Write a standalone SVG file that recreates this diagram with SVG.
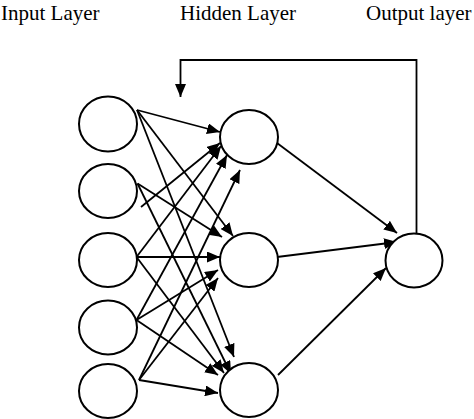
<svg xmlns="http://www.w3.org/2000/svg" width="474" height="419" viewBox="0 0 474 419">
<defs>
<marker id="ah" markerUnits="userSpaceOnUse" markerWidth="13" markerHeight="11" refX="13" refY="5.5" orient="auto">
<path d="M0,0 L13,5.5 L0,11 z" fill="#000"/>
</marker>
<style>
.n{fill:#fff;stroke:#000;stroke-width:2}
.c line,.c path{stroke:#000;stroke-width:1.8;fill:none}
.a{marker-end:url(#ah)}
.t{font-family:"Liberation Serif","Times New Roman",serif;font-size:21px;fill:#000}
</style>
</defs>
<rect width="474" height="419" fill="#fff"/>
<text class="t" x="1" y="19.5">Input Layer</text>
<text class="t" x="180" y="19.5">Hidden Layer</text>
<text class="t" x="366" y="19.5">Output layer</text>
<g class="c" id="connectors">
<line class="a" x1="137" y1="110" x2="220" y2="132"/>
<line class="a" x1="137" y1="110" x2="233" y2="236"/>
<line class="a" x1="137" y1="110" x2="234" y2="357"/>
<line class="a" x1="141" y1="207" x2="220" y2="143"/>
<line class="a" x1="137.5" y1="183.5" x2="222" y2="237"/>
<line class="a" x1="137.5" y1="183.5" x2="231" y2="374"/>
<line class="a" x1="136.5" y1="257" x2="221" y2="146"/>
<line class="a" x1="136.5" y1="257" x2="220" y2="257"/>
<line class="a" x1="136.5" y1="257" x2="224" y2="373"/>
<line class="a" x1="136.5" y1="320" x2="227" y2="155"/>
<line class="a" x1="136.5" y1="320" x2="218" y2="270"/>
<line class="a" x1="136.5" y1="320" x2="218" y2="375"/>
<line class="a" x1="139" y1="380" x2="240" y2="170"/>
<line class="a" x1="139" y1="380" x2="218" y2="278"/>
<line class="a" x1="139" y1="380" x2="218" y2="393"/>
<line class="a" x1="277" y1="143" x2="397" y2="233"/>
<line class="a" x1="277" y1="257" x2="397" y2="242"/>
<line class="a" x1="278" y1="375" x2="386" y2="268"/>
<path class="a" d="M416.5,233 V60 H180.5 V97"/>
</g>
<g id="in1"><ellipse class="n" cx="108" cy="124" rx="29" ry="27.5"/></g>
<g id="in2"><ellipse class="n" cx="108" cy="191" rx="29" ry="27"/></g>
<g id="in3"><ellipse class="n" cx="108" cy="260" rx="29" ry="27"/></g>
<g id="in4"><ellipse class="n" cx="108" cy="327.5" rx="29" ry="27"/></g>
<g id="in5"><ellipse class="n" cx="108" cy="391" rx="29" ry="27"/></g>
<g id="h1"><ellipse class="n" cx="249" cy="137" rx="29" ry="27"/></g>
<g id="h2"><ellipse class="n" cx="249" cy="260" rx="29" ry="27"/></g>
<g id="h3"><ellipse class="n" cx="249" cy="390" rx="29" ry="27"/></g>
<g id="out"><ellipse class="n" cx="414" cy="260.5" rx="28.5" ry="27"/></g>
</svg>
